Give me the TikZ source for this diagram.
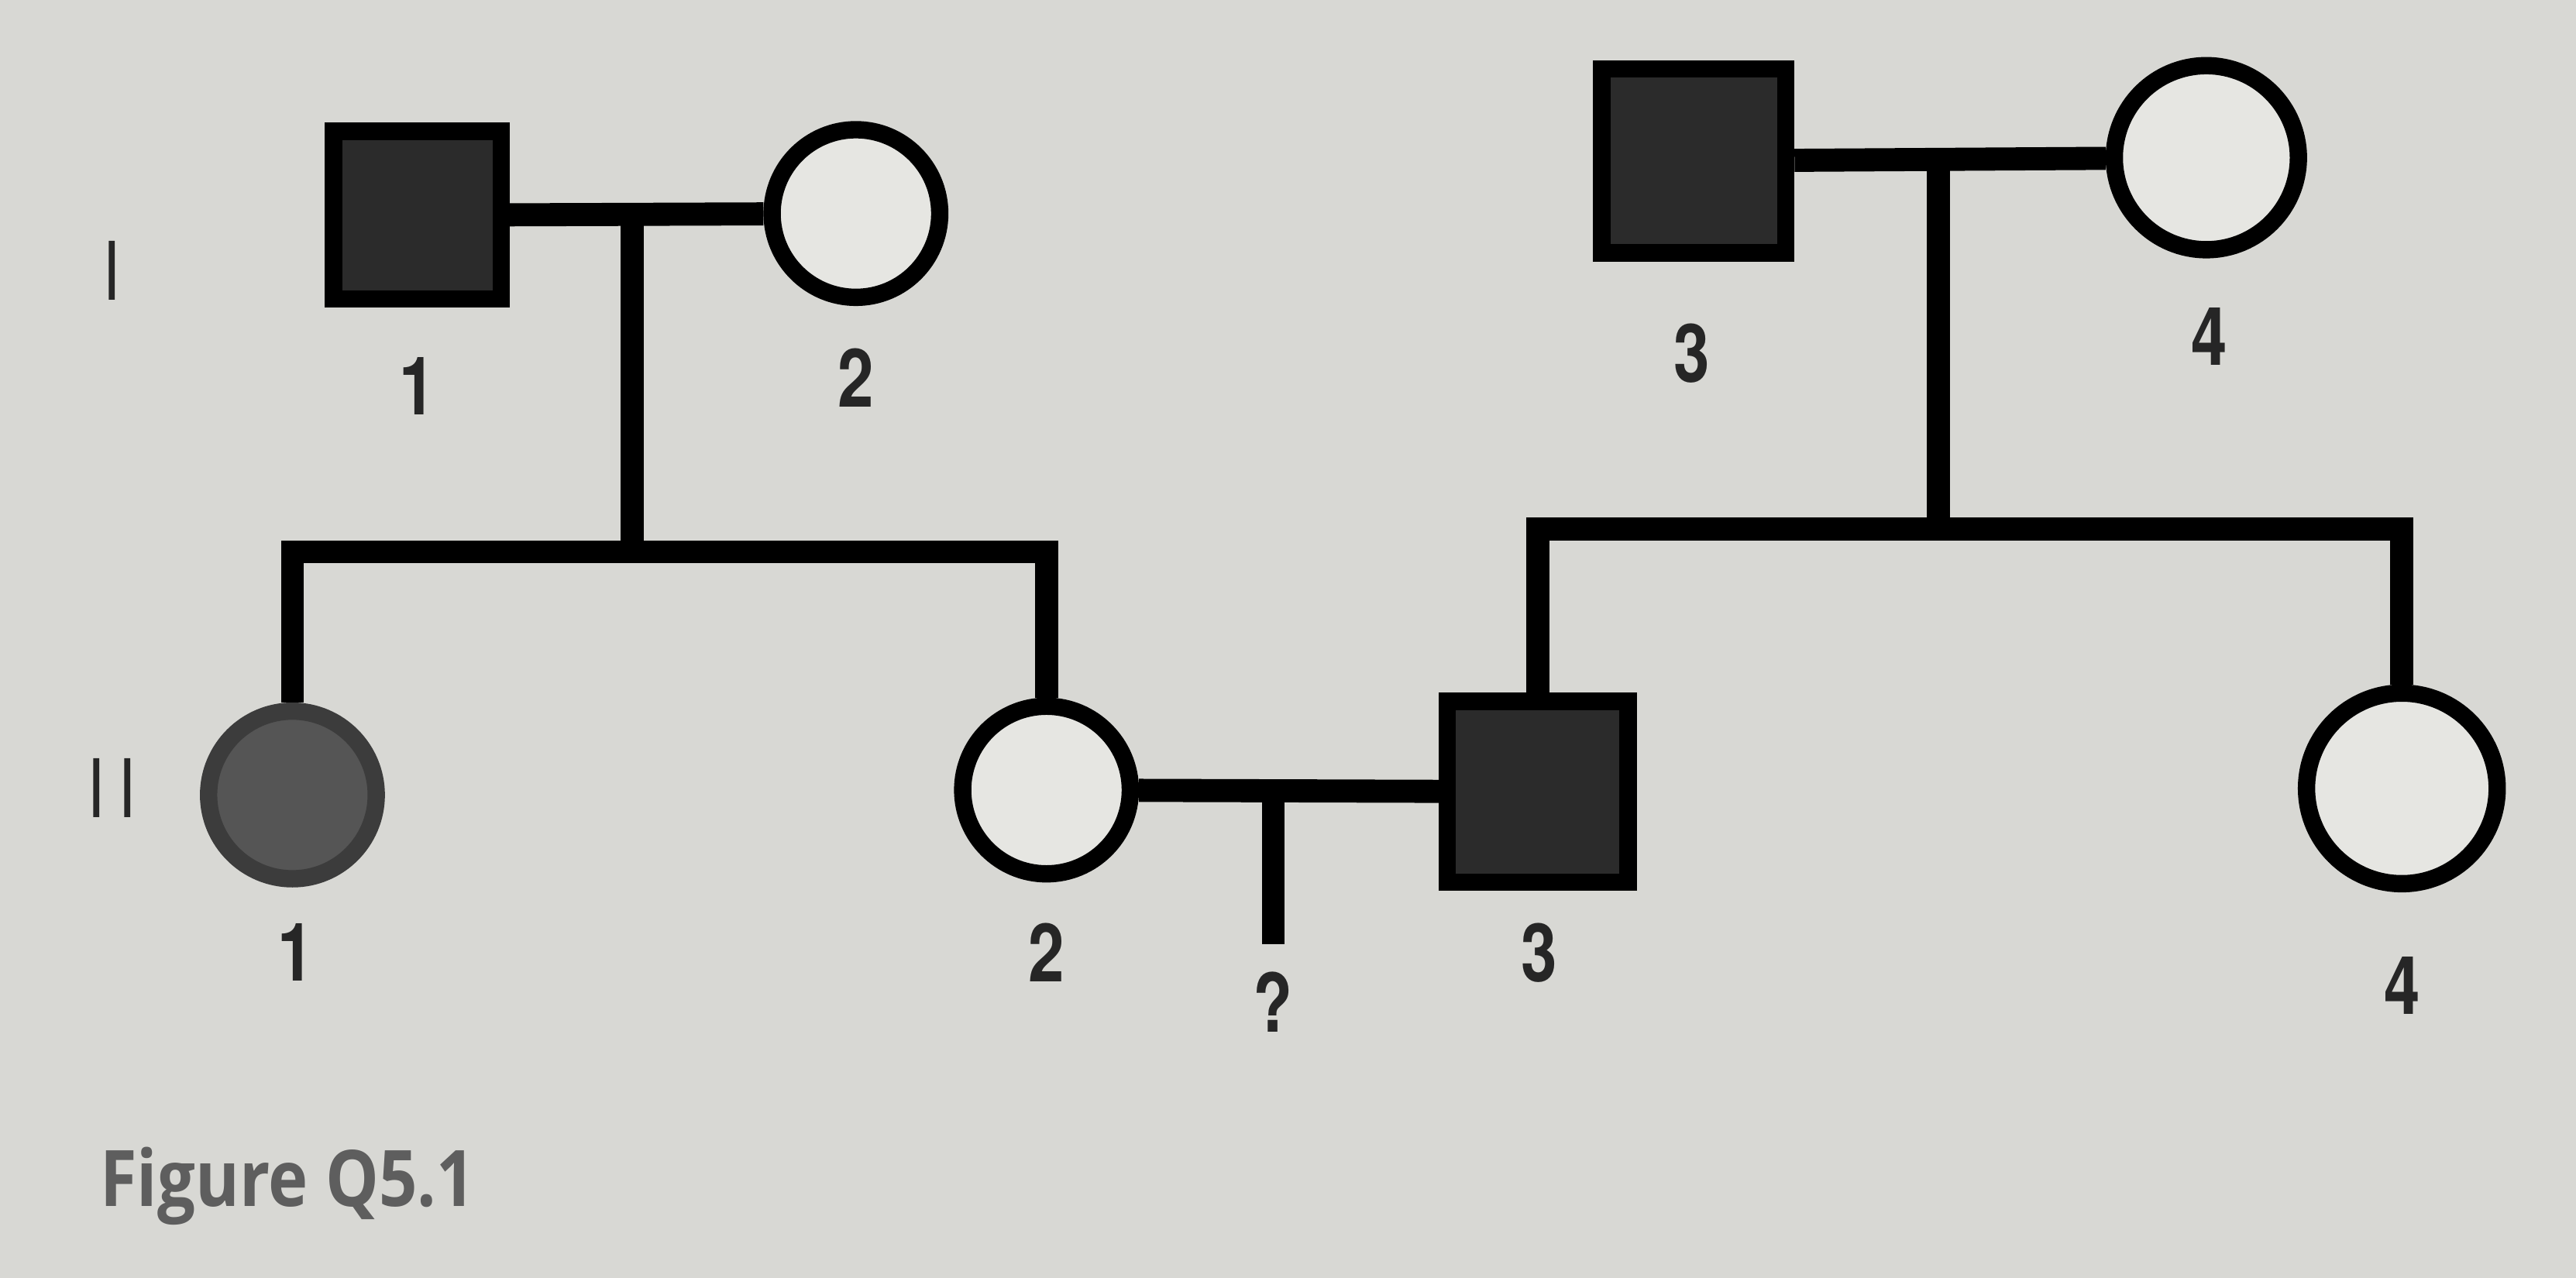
\documentclass[tikz,border=0pt]{standalone}
\usepackage{fontspec}
\newfontfamily\labelfont[FakeStretch=0.8]{TeX Gyre Heros}
\newfontfamily\figfont[FakeStretch=0.86]{Open Sans}
\definecolor{paper}{HTML}{D8D8D4}
\definecolor{blank}{HTML}{E6E6E2}
\definecolor{affected}{HTML}{2B2B2B}
\definecolor{grayaff}{HTML}{555555}
\definecolor{figgray}{HTML}{5E5E5E}
\begin{document}
\begin{tikzpicture}[x=0.01cm, y=-0.01cm,
  male/.style={draw=black, line width=3pt, rectangle, minimum size=1.02cm, inner sep=0pt},
  female/.style={draw=black, line width=3pt, circle, minimum size=1.02cm, inner sep=0pt},
  link/.style={line width=4pt},
  num/.style={font=\labelfont\bfseries\fontsize{14pt}{14pt}\selectfont, text=black!85}]
\fill[paper] (0,0) rectangle (1568,778);
\useasboundingbox (0,0) rectangle (1568,778);
\node[num, font=\labelfont\fontsize{14pt}{14pt}\selectfont] (genI) at (68,165) {I};
\node[num, font=\labelfont\fontsize{14pt}{14pt}\selectfont] (genII) at (68,480) {I\,I};
\node[male, fill=affected] (I1) at (254,131) {};
\node[female, fill=blank] (I2) at (521,130) {};
\node[male, fill=affected, minimum size=1.12cm] (I3) at (1031,98) {};
\node[female, fill=blank, minimum size=1.12cm] (I4) at (1343,96) {};
\node[female, fill=grayaff, draw=grayaff!70!black] (II1) at (178,484) {};
\node[female, fill=blank] (II2) at (637,481) {};
\node[male, fill=affected, minimum size=1.1cm] (II3) at (936,482) {};
\node[female, fill=blank, minimum size=1.16cm] (II4) at (1462,480) {};
\node[num] (nI1) at (254,235) {1};
\node[num] (nI2) at (521,230) {2};
\node[num] (nI3) at (1030,215) {3};
\node[num] (nI4) at (1345,205) {4};
\node[num] (nII1) at (180,580) {1};
\node[num] (nII2) at (637,580) {2};
\node[num] (nII3) at (937,580) {3};
\node[num] (nII4) at (1462,600) {4};
\coordinate (m1) at (385,131);
\coordinate (s1) at (385,336);
\coordinate (m2) at (1180,97);
\coordinate (s2) at (1180,322);
\coordinate (m3) at (775,482);
\coordinate (q) at (775,575);
\draw[link] (I1) -- (I2);
\draw[link] (I3) -- (I4);
\draw[link] (II2) -- (II3);
\draw[link] (m1) -- (s1);
\draw[link] (m2) -- (s2);
\draw[link] (m3) -- (q);
\draw[link] (II1) |- (s1) -| (II2);
\draw[link] (II3) |- (s2) -| (II4);
\node[num] (unk) at (775,610) {?};
\node[font=\figfont\bfseries\fontsize{13.5pt}{13.5pt}\selectfont, text=figgray] (fig) at (175,722) {Figure Q5.1};
\end{tikzpicture}
\end{document}
